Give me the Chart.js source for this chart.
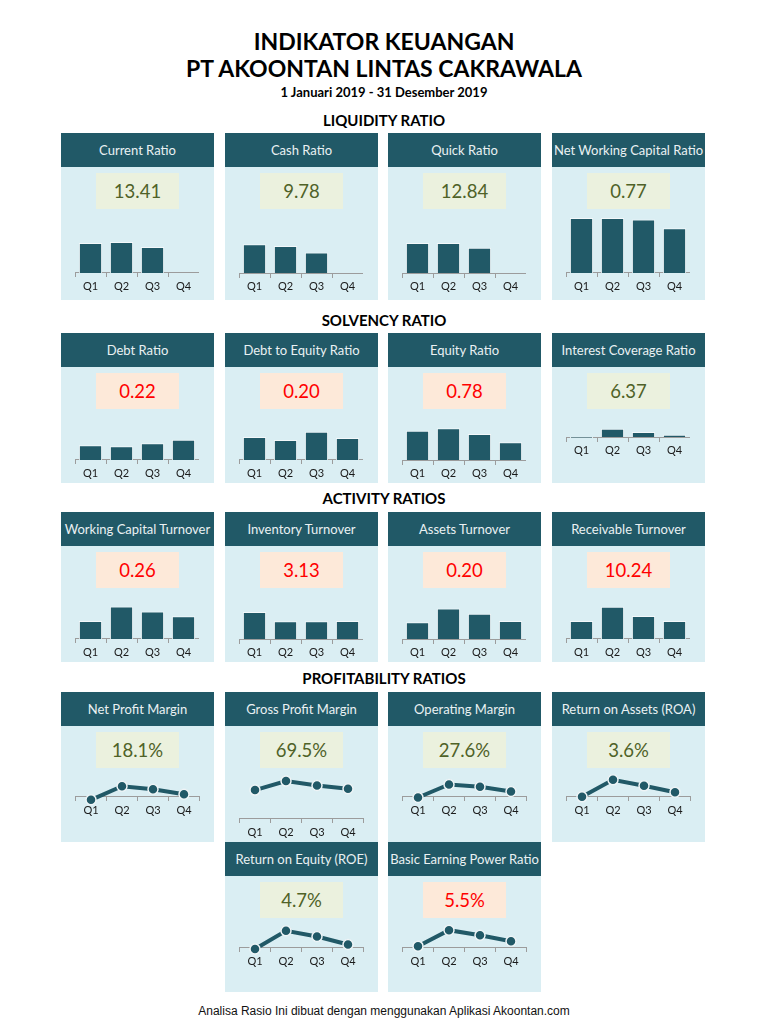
<!DOCTYPE html>
<html>
<head>
<meta charset="utf-8">
<script src="https://cdn.jsdelivr.net/npm/chart.js@4.4.1/dist/chart.umd.min.js"></script>
<style>
  body { margin: 0; background: #fff; font-family: Lato, "Open Sans", sans-serif; }
  #page { position: relative; width: 768px; height: 1024px; overflow: hidden; }
  .title { position: absolute; left: 0; width: 768px; text-align: center; font-weight: bold; color: #000; white-space: nowrap; }
  .t1 { font-size: 23px; line-height: 28px; }
  .t2 { font-size: 13px; line-height: 16px; }
  .sec { font-size: 15px; line-height: 18px; }
  .foot { font-family: "Liberation Sans", Arial, sans-serif; font-weight: normal; font-size: 12px; line-height: 16px; color: #111; }
  .card { position: absolute; width: 153px; background: #DAEEF3; }
  .card .head { height: 34px; background: #215967; color: #eaf1f3; font-size: 13px;
    display: flex; align-items: center; justify-content: center; white-space: nowrap; }
  .card .val { position: absolute; left: 35px; top: 40px; width: 83px; height: 36px;
    display: flex; align-items: center; justify-content: center; font-size: 18.5px; }
  .val.good { background: #EBF1DE; color: #4F6228; }
  .val.bad { background: #FDE9D9; color: #FF0000; }
  .card canvas { position: absolute; }
</style>
</head>
<body>
<div id="page">
  <div class="title t1" style="top:27px">INDIKATOR KEUANGAN</div>
  <div class="title t1" style="top:54px">PT AKOONTAN LINTAS CAKRAWALA</div>
  <div class="title t2" style="top:84px">1 Januari 2019 - 31 Desember 2019</div>
  <div class="title sec" style="top:111px">LIQUIDITY RATIO</div>
  <div class="title sec" style="top:311px">SOLVENCY RATIO</div>
  <div class="title sec" style="top:489px">ACTIVITY RATIOS</div>
  <div class="title sec" style="top:669px">PROFITABILITY RATIOS</div>
  <div class="title foot" style="top:1003px">Analisa Rasio Ini dibuat dengan menggunakan Aplikasi Akoontan.com</div>
</div>
<script>
// data
const quarters = ['Q1', 'Q2', 'Q3', 'Q4'];

const cardTitles = [
    'Current Ratio', 'Cash Ratio', 'Quick Ratio', 'Net Working Capital Ratio',
    'Debt Ratio', 'Debt to Equity Ratio', 'Equity Ratio', 'Interest Coverage Ratio',
    'Working Capital Turnover', 'Inventory Turnover', 'Assets Turnover', 'Receivable Turnover',
    'Net Profit Margin', 'Gross Profit Margin', 'Operating Margin', 'Return on Assets (ROA)',
    'Return on Equity (ROE)', 'Basic Earning Power Ratio'
];
const headlineValues = [
    '13.41', '9.78', '12.84', '0.77',
    '0.22', '0.20', '0.78', '6.37',
    '0.26', '3.13', '0.20', '10.24',
    '18.1%', '69.5%', '27.6%', '3.6%',
    '4.7%', '5.5%'
];
const headlineStatus = [
    'good', 'good', 'good', 'good',
    'bad', 'bad', 'bad', 'good',
    'bad', 'bad', 'bad', 'bad',
    'good', 'good', 'good', 'good',
    'good', 'bad'
];
const chartTypes = [
    'bar', 'bar', 'bar', 'bar',
    'bar', 'bar', 'bar', 'bar',
    'bar', 'bar', 'bar', 'bar',
    'line', 'line', 'line', 'line',
    'line', 'line'
];

// quarterly values
const currentRatio = [13.2, 13.6, 11.4, 0];
const cashRatio = [9.9, 9.3, 7.1, 0];
const quickRatio = [12.9, 12.9, 10.9, 0];
const netWorkingCapital = [0.80, 0.80, 0.78, 0.65];
const debtRatio = [0.194, 0.180, 0.22, 0.267];
const debtToEquity = [0.20, 0.174, 0.246, 0.191];
const equityRatio = [0.88, 0.95, 0.78, 0.53];
const interestCoverage = [-2, 16.6, 10, 4.6];
const workingCapitalTurnover = [0.26, 0.47, 0.40, 0.33];
const inventoryTurnover = [4.7, 3.1, 3.1, 3.13];
const assetsTurnover = [0.185, 0.34, 0.28, 0.20];
const receivableTurnover = [10.2, 18.4, 13.1, 10.24];
const netProfitMargin = [-6.6, 20.6, 14.6, 4.6];
const grossProfitMargin = [59.6, 78.5, 69.3, 62.4];
const operatingMargin = [-2.5, 30, 24.3, 12.5];
const returnOnAssets = [-0.1, 5.0, 3.2, 1.3];
const returnOnEquity = [-0.6, 6.7, 4.4, 1.2];
const basicEarningPower = [0.6, 7.8, 5.5, 2.8];

const seriesList = [
    currentRatio, cashRatio, quickRatio, netWorkingCapital,
    debtRatio, debtToEquity, equityRatio, interestCoverage,
    workingCapitalTurnover, inventoryTurnover, assetsTurnover, receivableTurnover,
    netProfitMargin, grossProfitMargin, operatingMargin, returnOnAssets,
    returnOnEquity, basicEarningPower
];

// value axis ranges of each small chart
const scaleMin = [
    -11.85, -9.3, -11.6, -0.393,
    -0.303, -0.200, -0.69, -92,
    -0.334, -4.0, -0.255, -13.1,
    -92, -50.4, -115, -13.8,
    -18, -20.25
];
const scaleMax = [
    27.2, 21.4, 26.7, 0.902,
    0.645, 0.426, 1.47, 52,
    0.71, 8.53, 0.544, 27.9,
    56, 105, 70, 8.4,
    11.6, 13.05
];

// layout
const TEAL = '#215967';
const rowTop = [133, 333, 512, 692, 842];
const rowHeight = [167, 150, 150, 150, 150];
const rowCanvasTop = [78, 78, 78, 76, 76];
const colLeft = [61, 225, 388, 552];
const PLOT_LEFT = 14;
const PLOT_WIDTH = 124;
// chart.js pads line charts by half a point size on every side
const LINE_PAD = 6.5;
const slots = [];
for (let r = 0; r < 4; r++) {
    for (let c = 0; c < 4; c++) slots.push([r, c]);
}
slots.push([4, 1], [4, 2]);

function buildCard(i) {
    const [row, col] = slots[i];
    const page = document.getElementById('page');
    const card = document.createElement('div');
    card.className = 'card';
    card.style.left = colLeft[col] + 'px';
    card.style.top = rowTop[row] + 'px';
    card.style.height = rowHeight[row] + 'px';
    card.innerHTML = `<div class="head">${cardTitles[i]}</div>` +
        `<div class="val ${headlineStatus[i]}">${headlineValues[i]}</div>`;

    const isBar = chartTypes[i] === 'bar';
    const pad = isBar ? 0 : LINE_PAD;
    const canvas = document.createElement('canvas');
    canvas.width = PLOT_WIDTH + pad * 2;
    canvas.height = rowHeight[row] - rowCanvasTop[row] + pad * 2;
    canvas.style.left = (PLOT_LEFT - pad) + 'px';
    canvas.style.top = (rowCanvasTop[row] - pad) + 'px';
    card.appendChild(canvas);
    page.appendChild(card);

    new Chart(canvas, {
        type: chartTypes[i],
        data: {
            labels: quarters,
            datasets: [{
                data: seriesList[i],
                backgroundColor: TEAL,
                borderColor: isBar ? '#f3f8fa' : TEAL,
                borderWidth: isBar ? 1 : 4,
                barPercentage: 0.75,
                categoryPercentage: 1,
                pointRadius: 5,
                pointBackgroundColor: TEAL,
                pointBorderColor: '#eef4f6',
                pointBorderWidth: 1.5,
                tension: 0
            }]
        },
        options: {
            responsive: false,
            animation: false,
            devicePixelRatio: 1,
            layout: { padding: 0 },
            plugins: { legend: { display: false }, tooltip: { enabled: false } },
            scales: {
                y: { display: false, min: scaleMin[i], max: scaleMax[i] },
                x: {
                    position: { y: 0 },
                    offset: true,
                    afterFit: function(axis) { axis.height = 0; },
                    grid: { offset: true, drawOnChartArea: false, drawTicks: true, tickLength: 4, color: '#9c9c9c' },
                    border: { display: true, color: '#9c9c9c', width: 1 },
                    ticks: { padding: 3, maxRotation: 0, color: '#1a1a1a', font: { family: 'Lato', size: 11 } }
                }
            }
        }
    });
}

for (let i = 0; i < cardTitles.length; i++) buildCard(i);
</script>
</body>
</html>
